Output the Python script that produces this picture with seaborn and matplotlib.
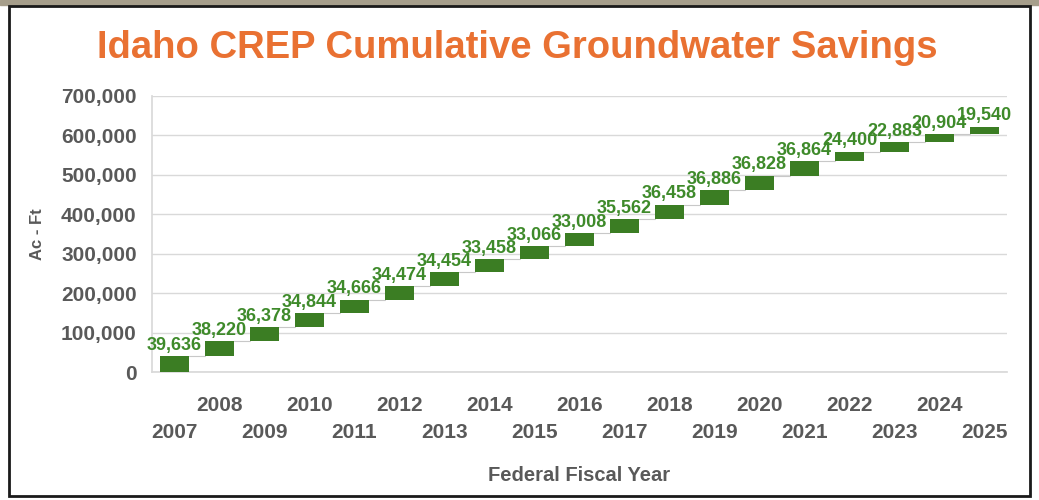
import numpy as np
import pandas as pd
import matplotlib.pyplot as plt
import seaborn as sns
from matplotlib.patches import Rectangle
from matplotlib.ticker import FuncFormatter

# data: yearly groundwater savings (ac-ft)
years = [str(y) for y in range(2007, 2026)]
savings = [39636, 38220, 36378, 34844, 34666, 34474, 34454, 33458, 33066,
           33008, 35562, 36458, 36886, 36828, 36864, 24400, 22883, 20904, 19540]

cum_end = np.cumsum(savings)
cum_start = cum_end - np.array(savings)

df = pd.DataFrame({'Year': years, 'Savings': savings, 'Start': cum_start, 'End': cum_end})

sns.set_theme(style='white')
plt.rcParams['font.family'] = ['Liberation Sans', 'DejaVu Sans']

GREEN = '#3B7D23'
GREY = '#595959'

fig = plt.figure(figsize=(10.39, 5.0), dpi=100)
ax = fig.add_axes([0.1463, 0.256, 0.8229, 0.552])

# floating bars (waterfall)
sns.barplot(data=df, x='Year', y='Savings', bottom=df['Start'].values,
            color=GREEN, saturation=1, width=0.64, errorbar=None,
            linewidth=0, ax=ax, zorder=3)

# connector lines between bars
hw = 0.32
for i in range(len(df) - 1):
    ax.plot([i + hw, i + 1 - hw], [df['End'][i]] * 2, color='#C8C8C8', lw=0.8, zorder=2)

# value labels
for i, row in df.iterrows():
    ax.annotate(f"{row['Savings']:,}", (i, row['End']), xytext=(0, 4.5),
                textcoords='offset points', ha='center', va='baseline',
                fontsize=13, fontweight='bold', color='#3E8A2A', zorder=4)

ax.set_xlim(-0.5, len(years) - 0.5)
ax.set_ylim(0, 700000)
ax.set_yticks(range(0, 700001, 100000))
ax.yaxis.set_major_formatter(FuncFormatter(lambda v, p: f'{v:,.0f}'))
ax.grid(axis='y', color='#D9D9D9', lw=1, zorder=0)
ax.set_axisbelow(True)
for s in ['top', 'right']:
    ax.spines[s].set_visible(False)
ax.spines['left'].set_color('#D9D9D9')
ax.spines['bottom'].set_color('#D9D9D9')

# staggered year labels
ax.set_xticks(range(0, len(years), 2))
ax.set_xticklabels(years[0::2])
ax.set_xticks(range(1, len(years), 2), minor=True)
ax.set_xticklabels(years[1::2], minor=True)
ax.tick_params(axis='x', which='major', length=0, pad=37, labelsize=15, labelcolor=GREY)
ax.tick_params(axis='x', which='minor', length=0, pad=17, labelsize=15, labelcolor=GREY)
ax.tick_params(axis='y', length=0, pad=11, labelsize=15, labelcolor=GREY)
for lab in ax.get_xticklabels(which='both') + ax.get_yticklabels():
    lab.set_fontweight('bold')

ax.set_xlabel('Federal Fiscal Year', fontsize=14.5, fontweight='bold', color=GREY, va='top')
ax.xaxis.set_label_coords(0.5, -0.34)
ax.set_ylabel('Ac - Ft', fontsize=12, fontweight='bold', color=GREY)
ax.yaxis.set_label_coords(-0.125, 0.5)

fig.text(0.4976, 0.905, 'Idaho CREP Cumulative Groundwater Savings',
         ha='center', va='center', fontsize=27.5, fontweight='bold', color='#E97132')

# frame
fig.add_artist(Rectangle((0, 1 - 5 / 500), 1, 5 / 500, transform=fig.transFigure,
                         color='#A69E8B', zorder=0))
fig.add_artist(Rectangle((9 / 1039, 4 / 500), 1021 / 1039, 490 / 500,
                         transform=fig.transFigure, fill=False, ec='#1A1A1A', lw=2))

fig.savefig('out.png', dpi=100)
